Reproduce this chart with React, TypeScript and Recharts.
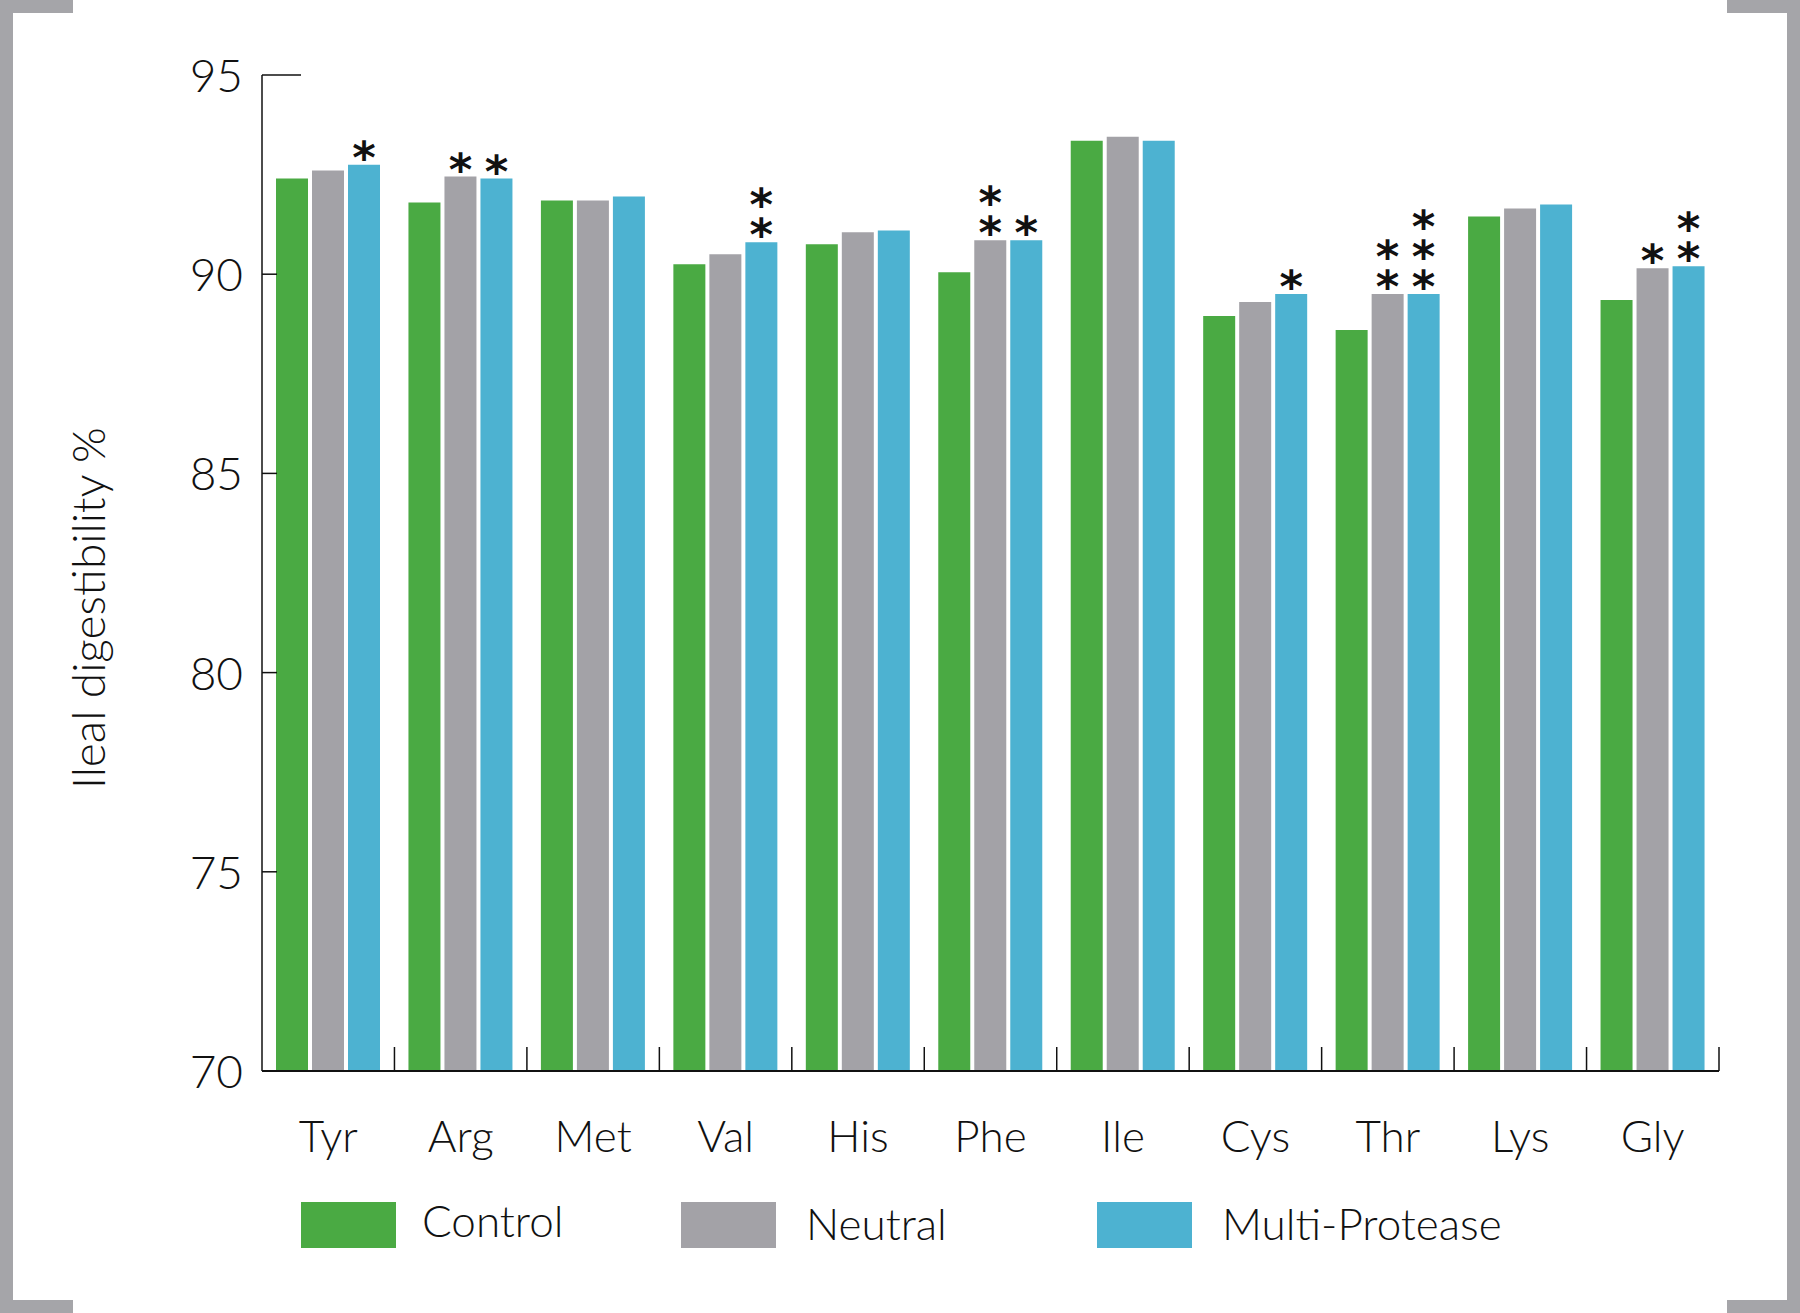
import React from "react";
import {
  BarChart,
  Bar,
  XAxis,
  YAxis,
  Legend,
  LabelList,
} from "recharts";

// amino acids along the x axis
const categories = ["Tyr", "Arg", "Met", "Val", "His", "Phe", "Ile", "Cys", "Thr", "Lys", "Gly"];

// ileal digestibility %
const control = [92.4, 91.8, 91.85, 90.25, 90.75, 90.05, 93.35, 88.95, 88.6, 91.45, 89.35];
const neutral = [92.6, 92.45, 91.85, 90.5, 91.05, 90.85, 93.45, 89.3, 89.5, 91.65, 90.15];
const multi = [92.75, 92.4, 91.95, 90.8, 91.1, 90.85, 93.35, 89.5, 89.5, 91.75, 90.2];

// number of significance asterisks above each bar
const neutralSig = [0, 1, 0, 0, 0, 2, 0, 0, 2, 0, 1];
const multiSig = [1, 1, 0, 2, 0, 1, 0, 1, 3, 0, 2];

const yTicks = [70, 75, 80, 85, 90, 95];

const seriesNames = ["Control", "Neutral", "Multi-Protease"];

const GREEN = "#4aaa43";
const GREY = "#a3a2a7";
const BLUE = "#4db2d1";
const seriesColors = [GREEN, GREY, BLUE];
const FRAME = "#a5a5a9";
const INK = "#111";
const FONT = "Lato, 'Open Sans', sans-serif";

const CHART_W = 1800;
const CHART_H = 1313;
const MARGIN = { top: 75, right: 81, bottom: 142, left: 162 };
const YAXIS_W = 100;
const BAND = (CHART_W - MARGIN.left - YAXIS_W - MARGIN.right) / categories.length;

const data = categories.map((name, i) => ({
  name,
  control: control[i],
  neutral: neutral[i],
  multi: multi[i],
  neutralSig: neutralSig[i],
  multiSig: multiSig[i],
}));

function CategoryTick(props: any) {
  const { x, y, payload } = props;
  const edge = x + BAND / 2;
  return (
    <g>
      <text
        x={x}
        y={y + 81}
        textAnchor="middle"
        fontFamily={FONT}
        fontWeight={300}
        fontSize={44}
        fill={INK}
      >
        {payload.value}
      </text>
      <line x1={edge} x2={edge} y1={y} y2={y - 24} stroke={INK} strokeWidth={1.5} />
    </g>
  );
}

function ValueTick(props: any) {
  const { x, y, payload } = props;
  const len = payload.value === 95 ? 39 : 15;
  return (
    <g>
      <text
        x={x - 19}
        y={y + 17}
        textAnchor="end"
        fontFamily={FONT}
        fontWeight={300}
        fontSize={46}
        fill={INK}
      >
        {payload.value}
      </text>
      <line x1={x} x2={x + len} y1={y} y2={y} stroke={INK} strokeWidth={1.5} />
    </g>
  );
}

// stacked asterisks drawn as one text, one tspan per star going upward
function Stars(props: any) {
  const box = props.viewBox || props;
  const count = Number(props.value) || 0;
  if (!count) return null;
  const cx = box.x + box.width / 2;
  const top = box.y;
  const spans = [];
  for (let i = 0; i < count; i++) {
    spans.push(
      <tspan key={i} x={cx} dy={i === 0 ? 0 : -30}>
        *
      </tspan>
    );
  }
  return (
    <text
      x={cx}
      y={top + 8}
      textAnchor="middle"
      fontFamily="'DejaVu Sans', sans-serif"
      fontWeight="bold"
      fontSize={45}
      fill={INK}
    >
      {spans}
    </text>
  );
}

const LEGEND_X = [301, 681, 1097];

function LegendBox() {
  return (
    <svg width={CHART_W} height={90} style={{ display: "block", overflow: "visible" }}>
      {seriesNames.map((name, i) => (
        <g key={name}>
          <rect x={LEGEND_X[i]} y={0} width={95} height={46} fill={seriesColors[i]} />
          <text
            x={LEGEND_X[i] + (i === 0 ? 121 : 125)}
            y={i === 0 ? 35 : 38}
            fontFamily={FONT}
            fontWeight={300}
            fontSize={44}
            fill={INK}
          >
            {name}
          </text>
        </g>
      ))}
    </svg>
  );
}

function YLabel(props: any) {
  const vb = props.viewBox;
  const x = vb.x - 57;
  const y = vb.y + vb.height / 2 + 35;
  return (
    <text
      x={x}
      y={y}
      transform={`rotate(-90, ${x}, ${y})`}
      textAnchor="middle"
      fontFamily={FONT}
      fontWeight={300}
      fontSize={46}
      fill={INK}
    >
      Ileal digestibility %
    </text>
  );
}

const bracket = (style: React.CSSProperties) => (
  <div style={{ position: "absolute", background: FRAME, ...style }} />
);

export default function App() {
  return (
    <div
      style={{
        position: "absolute",
        left: 0,
        top: 0,
        width: CHART_W,
        height: CHART_H,
        background: "#fff",
      }}
    >
      <BarChart
        width={CHART_W}
        height={CHART_H}
        data={data}
        margin={MARGIN}
        barSize={32}
        barGap={4}
      >
        <XAxis
          dataKey="name"
          height={100}
          tickLine={false}
          tickSize={0}
          tickMargin={0}
          axisLine={{ stroke: INK, strokeWidth: 2 }}
          tick={<CategoryTick />}
          interval={0}
        />
        <YAxis
          width={YAXIS_W}
          domain={[70, 95]}
          ticks={yTicks}
          allowDataOverflow
          tickLine={false}
          tickSize={0}
          tickMargin={0}
          axisLine={{ stroke: INK, strokeWidth: 1.5 }}
          tick={<ValueTick />}
          label={{ content: (p: any) => <YLabel {...p} /> }}
        />
        <Legend
          layout="horizontal"
          verticalAlign="middle"
          align="center"
          wrapperStyle={{ left: 0, top: 1202, width: CHART_W }}
          content={() => <LegendBox />}
        />
        <Bar dataKey="control" name="Control" fill={GREEN} isAnimationActive={false} />
        <Bar dataKey="neutral" name="Neutral" fill={GREY} isAnimationActive={false}>
          <LabelList dataKey="neutralSig" content={(p: any) => <Stars {...p} />} />
        </Bar>
        <Bar dataKey="multi" name="Multi-Protease" fill={BLUE} isAnimationActive={false}>
          <LabelList dataKey="multiSig" content={(p: any) => <Stars {...p} />} />
        </Bar>
      </BarChart>
      {bracket({ left: 0, top: 0, width: 13, height: CHART_H })}
      {bracket({ left: 0, top: 0, width: 73, height: 13 })}
      {bracket({ left: 0, top: CHART_H - 13, width: 73, height: 13 })}
      {bracket({ left: CHART_W - 13, top: 0, width: 13, height: CHART_H })}
      {bracket({ left: CHART_W - 73, top: 0, width: 73, height: 13 })}
      {bracket({ left: CHART_W - 73, top: CHART_H - 13, width: 73, height: 13 })}
    </div>
  );
}
